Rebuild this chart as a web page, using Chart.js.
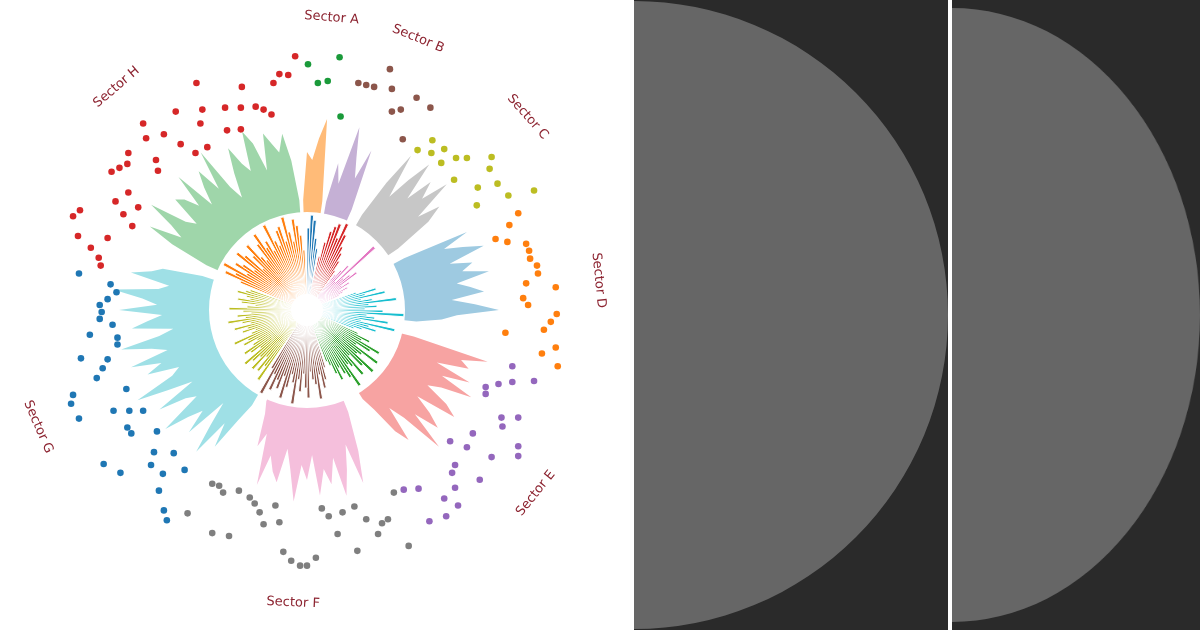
<!DOCTYPE html>
<html>
<head>
<meta charset="utf-8">
<script src="https://cdn.jsdelivr.net/npm/chart.js@4.4.1/dist/chart.umd.min.js"></script>
<style>
  body { margin: 0; width: 1200px; height: 630px; background: #fff; position: relative; overflow: hidden; font-family: 'DejaVu Sans', sans-serif; }
  .layer { position: absolute; left: -3px; top: 0; }
  #panel1 { position: absolute; left: 634px; top: 0; width: 314px; height: 630px; background: #2a2a2a; }
  #panel2 { position: absolute; left: 952px; top: 0; width: 248px; height: 630px; background: #2a2a2a; }
  #disk, #hub { position: absolute; }
</style>
</head>
<body>
<canvas id="ringChart" class="layer" width="620" height="620"></canvas>
<canvas id="disk" width="196" height="196" style="left:209px;top:212px"></canvas>
<canvas id="barChart" class="layer" width="620" height="620"></canvas>
<canvas id="hub" width="32" height="32" style="left:291px;top:294px"></canvas>
<canvas id="dotChart" class="layer" width="620" height="620"></canvas>
<div id="panel1"><canvas id="half1" width="314" height="630"></canvas></div>
<div id="panel2"><canvas id="half2" width="307" height="614" style="position:absolute;left:0;top:8px;width:248px;height:614px"></canvas></div>
<script>
// 180 steps of 2 degrees, clockwise from top
const WEDGES = 180;

// middle ring: outer radius per step, by sector
const ringSectors = ['peach', 'lavender', 'gray', 'blue', 'red', 'pink', 'cyan', 'green'];
const ringColors = ['#ffbb78', '#c5b0d5', '#c7c7c7', '#9ecae1', '#f7a3a2', '#f5bfdc', '#9fe0e6', '#9fd6aa'];
const ringStart = [0, 5, 15, 31, 52, 79, 105, 147];
const ringValues = [
  [110, 158, 150, 172, 192, 110],
  [110, 150, 130, 190, 160, 140, 172, 110],
  [110, 150, 186, 140, 165, 190, 150, 178, 160, 188, 145, 168, 150, 110],
  [110, 178, 150, 168, 188, 150, 172, 160, 186, 152, 165, 178, 145, 168, 192, 150, 135, 110],
  [110, 188, 162, 172, 140, 178, 150, 186, 155, 142, 168, 182, 140, 160, 176, 150, 190, 145, 128, 165, 150, 120, 105],
  [110, 150, 182, 140, 165, 190, 150, 176, 160, 186, 145, 170, 155, 192, 160, 140, 175, 165, 150, 182, 130, 145, 112, 100],
  [110, 130, 165, 140, 180, 150, 125, 170, 145, 160, 185, 140, 150, 178, 135, 160, 192, 150, 140, 172, 155, 185, 145, 160, 190, 150, 135, 176, 160, 145, 188, 150, 165, 195, 150, 140, 180, 160, 150, 110],
  [110, 150, 178, 145, 160, 188, 150, 140, 172, 165, 150, 185, 142, 160, 176, 150, 190, 145, 130, 155, 180, 160, 150, 190, 175, 145, 182, 170, 160, 178, 150, 110]
];
const ringShift = [-1, 0, 0, 0, 0, 0, 0, 0];

// inner bars: length per step, by sector
const barColors = ['#1f77b4', '#d62728', '#e377c2', '#17becf', '#2ca02c', '#8c564b', '#bcbd22', '#ff7f0e'];
const barStart = [0, 6, 19, 35, 57, 81, 107, 146];
const barValues = [
  [82, 95, 90, 72, 62],
  [55, 70, 82, 88, 92, 78, 95, 84, 72, 66, 58, 48],
  [45, 52, 60, 40, 92, 48, 55, 62, 42, 50, 38, 46, 40, 35],
  [52, 72, 60, 80, 55, 66, 90, 62, 70, 58, 76, 97, 60, 68, 82, 55, 90, 64, 72, 58, 50],
  [56, 70, 62, 84, 75, 60, 88, 70, 66, 90, 78, 62, 85, 72, 68, 92, 80, 74, 66, 78, 70, 60, 55],
  [60, 72, 80, 66, 90, 75, 70, 62, 88, 78, 64, 82, 70, 95, 74, 66, 80, 92, 70, 84, 76, 88, 72, 95, 68],
  [85, 70, 78, 62, 80, 66, 74, 82, 60, 70, 76, 64, 58, 72, 66, 80, 60, 55, 68, 62, 75, 58, 66, 80, 62, 70, 56, 64, 78, 60, 52, 66, 70, 58, 62, 72, 64, 60],
  [72, 90, 80, 95, 70, 85, 78, 66, 90, 82, 60, 76, 88, 70, 64, 82, 92, 74, 80, 68, 95, 76, 70, 85, 88, 72, 96, 80, 70, 92, 85, 75, 60]
];

// outer dots (x right, y down, pixels of the original)
const dotNames = ['A', 'B', 'C', 'D', 'E', 'F', 'G', 'H'];
const dotColors = ['#1a9a3a', '#8c564b', '#bcbd22', '#ff7f0e', '#9467bd', '#7f7f7f', '#1f77b4', '#d62728'];
const dotsA = [[308,61],[340,54],[318,80],[328,78],[341,114]];
const dotsB = [[391,66],[359,80],[367,82],[375,84],[393,86],[418,95],[432,105],[393,109],[402,107],[404,137]];
const dotsC = [[434,138],[419,148],[433,151],[446,147],[443,161],[458,156],[469,156],[494,155],[492,167],[456,178],[480,186],[500,182],[511,194],[537,189],[479,204]];
const dotsD = [[521,212],[512,224],[498,238],[510,241],[529,243],[532,250],[533,258],[540,265],[541,273],[529,283],[559,287],[526,298],[531,305],[560,314],[554,322],[547,330],[508,333],[559,348],[545,354],[561,367]];
const dotsE = [[515,367],[488,388],[488,395],[501,385],[515,383],[537,382],[504,419],[521,419],[505,428],[475,435],[452,443],[469,449],[521,448],[521,458],[494,459],[457,467],[454,475],[482,482],[457,490],[446,501],[460,508],[448,519],[431,524],[405,492],[420,491]];
const dotsF = [[211,486],[218,488],[222,495],[238,493],[249,500],[254,506],[259,515],[275,508],[263,527],[279,525],[186,516],[211,536],[228,539],[283,555],[291,564],[300,569],[307,569],[316,561],[322,511],[329,519],[343,515],[355,509],[367,522],[338,537],[358,554],[383,526],[389,522],[379,537],[395,495],[410,549]];
const dotsG = [[76,273],[108,284],[114,292],[105,299],[97,305],[99,312],[97,319],[110,325],[87,335],[115,338],[115,345],[78,359],[105,360],[100,369],[94,379],[124,390],[70,396],[68,405],[111,412],[127,412],[141,412],[76,420],[125,429],[129,435],[155,433],[152,454],[172,455],[101,466],[118,475],[149,467],[161,476],[183,472],[157,493],[162,513],[165,523]];
const dotsH = [[295,53],[279,71],[288,72],[273,80],[195,80],[241,84],[174,109],[201,107],[224,105],[240,105],[255,104],[263,107],[271,112],[199,121],[141,121],[226,128],[240,127],[162,132],[144,136],[179,142],[206,145],[194,151],[126,151],[154,158],[125,162],[117,166],[109,170],[156,169],[126,191],[113,200],[136,206],[121,213],[77,209],[70,215],[130,225],[75,235],[105,237],[88,247],[96,257],[98,265]];
const dotSets = [dotsA, dotsB, dotsC, dotsD, dotsE, dotsF, dotsG, dotsH];

// sector labels: angle clockwise from top, radius
const labelNames = ['Sector A', 'Sector B', 'Sector C', 'Sector D', 'Sector E', 'Sector F', 'Sector G', 'Sector H'];
const labelAngles = [4.8, 22.3, 48.8, 84.2, 128.7, 182.7, 246.5, 319.5];
const labelRadius = 297;
const CX = 307, CY = 310;

const steps = Array.from({ length: WEDGES }, (_, i) => i);
const silent = { legend: { display: false }, tooltip: { enabled: false } };

function radialScale() {
    return {
        min: 0, max: 310,
        ticks: { display: false },
        grid: { display: false },
        angleLines: { display: false },
        pointLabels: { display: false }
    };
}

// ring: one filled radar polygon per sector, zero outside it (hidden under the white disk)
new Chart(document.getElementById('ringChart'), {
    type: 'radar',
    data: {
        labels: steps,
        datasets: ringValues.map((vals, i) => {
            const data = new Array(WEDGES).fill(0);
            vals.forEach((v, j) => { data[(ringStart[i] + ringShift[i] + j + WEDGES) % WEDGES] = v; });
            return {
                data: data,
                backgroundColor: ringColors[i],
                borderWidth: 0,
                pointRadius: 0,
                fill: 'origin',
                tension: 0
            };
        })
    },
    options: {
        responsive: false, animation: false, layout: { padding: 0 },
        plugins: silent,
        scales: { r: radialScale() }
    }
});

function disk(id) {
    new Chart(document.getElementById(id), {
        type: 'pie',
        data: { labels: ['x'], datasets: [{ data: [1], backgroundColor: '#ffffff', borderWidth: 0 }] },
        options: { responsive: false, animation: false, layout: { padding: 0 }, plugins: silent }
    });
}
disk('disk');

const barData = new Array(WEDGES).fill(0);
const barBg = new Array(WEDGES).fill('rgba(0,0,0,0)');
barStart.forEach((s, i) => {
    barValues[i].forEach((v, j) => {
        barData[s + j] = v;
        barBg[s + j] = barColors[i];
    });
});
new Chart(document.getElementById('barChart'), {
    type: 'polarArea',
    data: {
        labels: steps,
        datasets: [{ data: barData, backgroundColor: barBg, borderColor: '#ffffff', borderWidth: 1 }]
    },
    options: {
        responsive: false, animation: false, layout: { padding: 0 },
        plugins: silent,
        scales: { r: radialScale() }
    }
});
disk('hub');

const sectorLabels = {
    id: 'sectorLabels',
    afterDraw(chart) {
        const { ctx, scales } = chart;
        ctx.save();
        ctx.fillStyle = '#8c2330';
        ctx.font = "13px 'DejaVu Sans'";
        ctx.textAlign = 'center';
        ctx.textBaseline = 'middle';
        labelNames.forEach((name, i) => {
            const a = labelAngles[i] * Math.PI / 180;
            const px = scales.x.getPixelForValue(CX + labelRadius * Math.sin(a));
            const py = scales.y.getPixelForValue(CY - labelRadius * Math.cos(a));
            let rot = labelAngles[i];
            if (rot > 90 && rot < 270) rot -= 180;
            ctx.translate(px, py);
            ctx.rotate(rot * Math.PI / 180);
            ctx.fillText(name, 0, 0);
            ctx.setTransform(chart.currentDevicePixelRatio, 0, 0, chart.currentDevicePixelRatio, 0, 0);
        });
        ctx.restore();
    }
};

new Chart(document.getElementById('dotChart'), {
    type: 'scatter',
    data: {
        datasets: dotSets.map((pts, i) => ({
            label: dotNames[i],
            data: pts.map(p => ({ x: p[0], y: p[1] })),
            backgroundColor: dotColors[i],
            borderWidth: 0,
            pointRadius: 3.3
        }))
    },
    options: {
        responsive: false, animation: false, layout: { padding: 0 },
        plugins: silent,
        scales: {
            x: { display: false, min: -3, max: 617 },
            y: { display: false, min: 0, max: 620, reverse: true }
        }
    },
    plugins: [sectorLabels]
});

function half(id) {
    new Chart(document.getElementById(id), {
        type: 'pie',
        data: { labels: ['x'], datasets: [{ data: [1], backgroundColor: '#666666', borderWidth: 0 }] },
        options: {
            responsive: false, animation: false, layout: { padding: 0 },
            rotation: 0, circumference: 180,
            plugins: silent
        }
    });
}
half('half1');
half('half2');
</script>
</body>
</html>
